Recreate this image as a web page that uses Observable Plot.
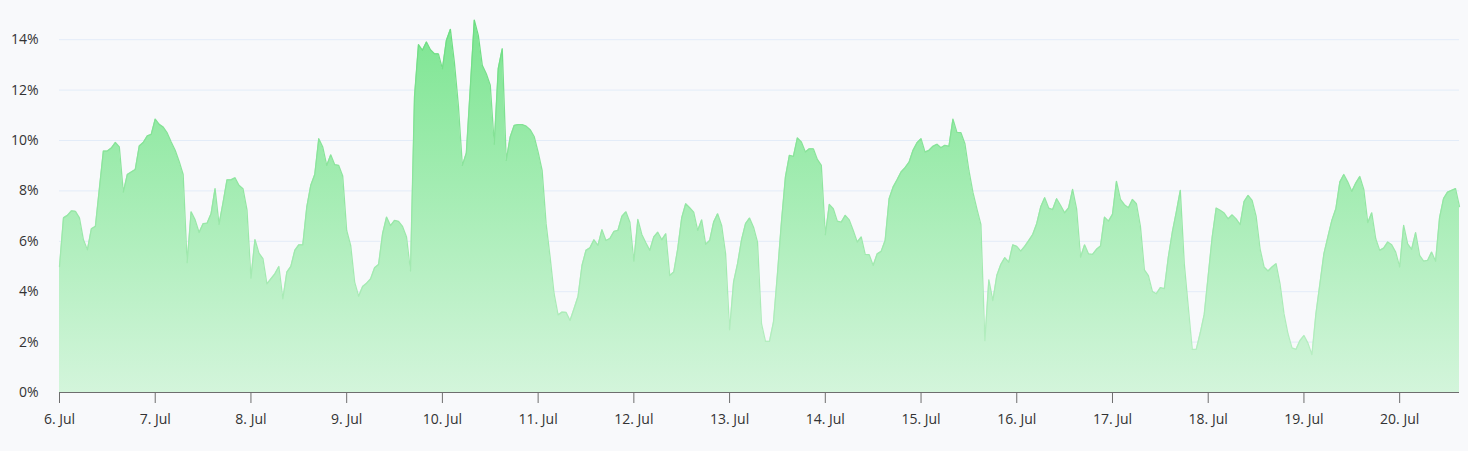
<!DOCTYPE html>
<html>
<head>
<meta charset="utf-8">
<script src="https://cdn.jsdelivr.net/npm/d3@7"></script>
<script src="https://cdn.jsdelivr.net/npm/@observablehq/plot@0.6"></script>
<style>
  html, body { margin: 0; padding: 0; background: #f8f9fb; }
  #chart svg { display: block; background: #f8f9fb; }
  #chart svg text { font-family: "Open Sans", sans-serif !important; font-size: 14px !important; fill: #333; }
</style>
</head>
<body>
<div id="chart"></div>
<script>
// Hourly values (%) per day, starting 6 Jul 00:00
const jul06 = [5.0,6.93,7.03,7.21,7.19,6.93,6.06,5.66,6.5,6.59,8.09,9.58,9.58,9.7,9.92,9.74,7.95,8.65,8.75,8.85,9.78,9.92,10.18,10.24];
const jul07 = [10.85,10.64,10.53,10.3,9.94,9.61,9.17,8.65,5.15,7.17,6.85,6.35,6.7,6.72,7.09,8.09,6.67,7.53,8.44,8.44,8.52,8.22,8.09,7.25];
const jul08 = [4.54,6.07,5.53,5.31,4.31,4.51,4.71,5.0,3.72,4.78,5.0,5.64,5.86,5.86,7.36,8.22,8.65,10.07,9.74,9.01,9.43,9.04,9.01,8.59];
const jul09 = [6.43,5.84,4.38,3.82,4.21,4.34,4.51,4.95,5.08,6.3,6.96,6.62,6.83,6.79,6.59,6.17,4.82,11.72,13.8,13.58,13.91,13.6,13.44,13.44];
const jul10 = [12.84,13.97,14.41,13.1,11.4,9.01,9.5,12.1,14.78,14.17,12.98,12.65,12.19,9.85,12.85,13.64,9.21,10.14,10.6,10.63,10.63,10.57,10.43,10.16];
const jul11 = [9.54,8.81,6.69,5.37,3.92,3.08,3.19,3.18,2.86,3.32,3.81,5.04,5.64,5.74,6.06,5.84,6.46,6.03,6.11,6.39,6.43,6.99,7.17,6.76];
const jul12 = [5.21,6.87,6.27,5.94,5.64,6.17,6.36,6.06,6.3,4.64,4.78,5.7,6.93,7.49,7.33,7.16,6.43,6.85,5.88,6.03,6.76,7.09,6.63,5.5];
const jul13 = [2.49,4.38,5.11,6.06,6.7,6.92,6.56,5.97,2.73,2.03,2.03,2.79,4.71,6.76,8.55,9.41,9.37,10.1,9.94,9.54,9.67,9.67,9.25,9.01];
const jul14 = [6.26,7.46,7.29,6.8,6.76,7.03,6.85,6.43,5.97,6.17,5.48,5.47,5.04,5.5,5.6,6.03,7.69,8.15,8.44,8.75,8.92,9.14,9.61,9.91];
const jul15 = [10.07,9.54,9.61,9.77,9.85,9.71,9.81,9.77,10.85,10.32,10.31,9.87,8.81,7.95,7.29,6.67,2.06,4.47,3.65,4.64,5.08,5.35,5.17,5.86];
const jul16 = [5.8,5.61,5.8,6.03,6.27,6.7,7.36,7.73,7.32,7.26,7.69,7.42,7.13,7.33,8.06,7.29,5.37,5.86,5.5,5.48,5.68,5.81,6.96,6.8];
const jul17 = [7.07,8.38,7.66,7.45,7.33,7.66,7.49,6.59,4.87,4.64,4.01,3.92,4.16,4.12,5.37,6.36,7.16,8.02,5.11,3.39,1.71,1.71,2.36,3.1];
const jul18 = [4.64,6.17,7.32,7.23,7.12,6.89,7.05,6.89,6.66,7.58,7.82,7.62,7.0,5.7,4.98,4.82,4.98,5.11,4.31,3.12,2.33,1.77,1.71,2.06];
const jul19 = [2.26,1.96,1.5,3.12,4.31,5.5,6.17,6.83,7.29,8.35,8.65,8.35,7.98,8.31,8.57,8.06,6.74,7.13,6.1,5.64,5.73,5.97,5.86,5.57];
const jul20 = [4.98,6.63,5.9,5.68,6.34,5.44,5.21,5.24,5.57,5.21,6.93,7.69,7.95,8.02,8.09,7.38];

const days = [jul06, jul07, jul08, jul09, jul10, jul11, jul12, jul13, jul14, jul15, jul16, jul17, jul18, jul19, jul20];
const yTicks = [0, 2, 4, 6, 8, 10, 12, 14];
const start = Date.UTC(2024, 6, 6);
const xTicks = d3.range(15).map(i => new Date(start + i * 86400000));

const data = [];
days.forEach((arr, di) => arr.forEach((v, hi) => {
  data.push({ t: new Date(start + (di * 24 + hi) * 3600000), v });
}));

const plot = Plot.plot({
  width: 1468,
  height: 451,
  marginLeft: 59,
  marginRight: 9,
  marginTop: 14,
  marginBottom: 59,
  style: { background: "#f8f9fb", fontFamily: "'Open Sans', sans-serif", fontSize: "14px", color: "#333" },
  x: { type: "utc", domain: [data[0].t, data[data.length - 1].t], label: null },
  y: { domain: [0, 15], label: null },
  marks: [
    Plot.gridY(yTicks.filter(d => d > 0), { stroke: "#e3ecf8", strokeOpacity: 1, strokeWidth: 1 }),
    Plot.areaY(data, { x: "t", y: "v", fill: "url(#areaGrad)", curve: "linear" }),
    Plot.lineY(data, { x: "t", y: "v", stroke: "url(#lineGrad)", strokeWidth: 1.3, curve: "linear" }),
    Plot.ruleY([0], { stroke: "#6e6e6e", strokeWidth: 1 }),
    Plot.axisY(yTicks, { tickSize: 0, tickPadding: 21, tickFormat: d => d + "%", fill: "#333", label: null }),
    Plot.axisX(xTicks, { tickSize: 11, tickPadding: 11, stroke: "#6e6e6e", tickFormat: d => d.getUTCDate() + ". Jul", fill: "#333", label: null })
  ]
});

const yScale = plot.scale("y");
const gradTop = yScale.apply(d3.max(data, d => d.v));
const gradBottom = yScale.apply(0);
const ns = "http://www.w3.org/2000/svg";
const defs = document.createElementNS(ns, "defs");
function grad(id, stops) {
  const g = document.createElementNS(ns, "linearGradient");
  g.setAttribute("id", id);
  g.setAttribute("gradientUnits", "userSpaceOnUse");
  g.setAttribute("x1", 0); g.setAttribute("x2", 0);
  g.setAttribute("y1", gradTop); g.setAttribute("y2", gradBottom);
  stops.forEach(([o, c]) => {
    const s = document.createElementNS(ns, "stop");
    s.setAttribute("offset", o);
    s.setAttribute("stop-color", c);
    g.appendChild(s);
  });
  defs.appendChild(g);
}
grad("areaGrad", [[0, "#7ce591"], [1, "#d3f5db"]]);
grad("lineGrad", [[0, "#6bdc80"], [1, "#bff0c9"]]);
plot.insertBefore(defs, plot.firstChild);

document.getElementById("chart").appendChild(plot);
</script>
</body>
</html>
